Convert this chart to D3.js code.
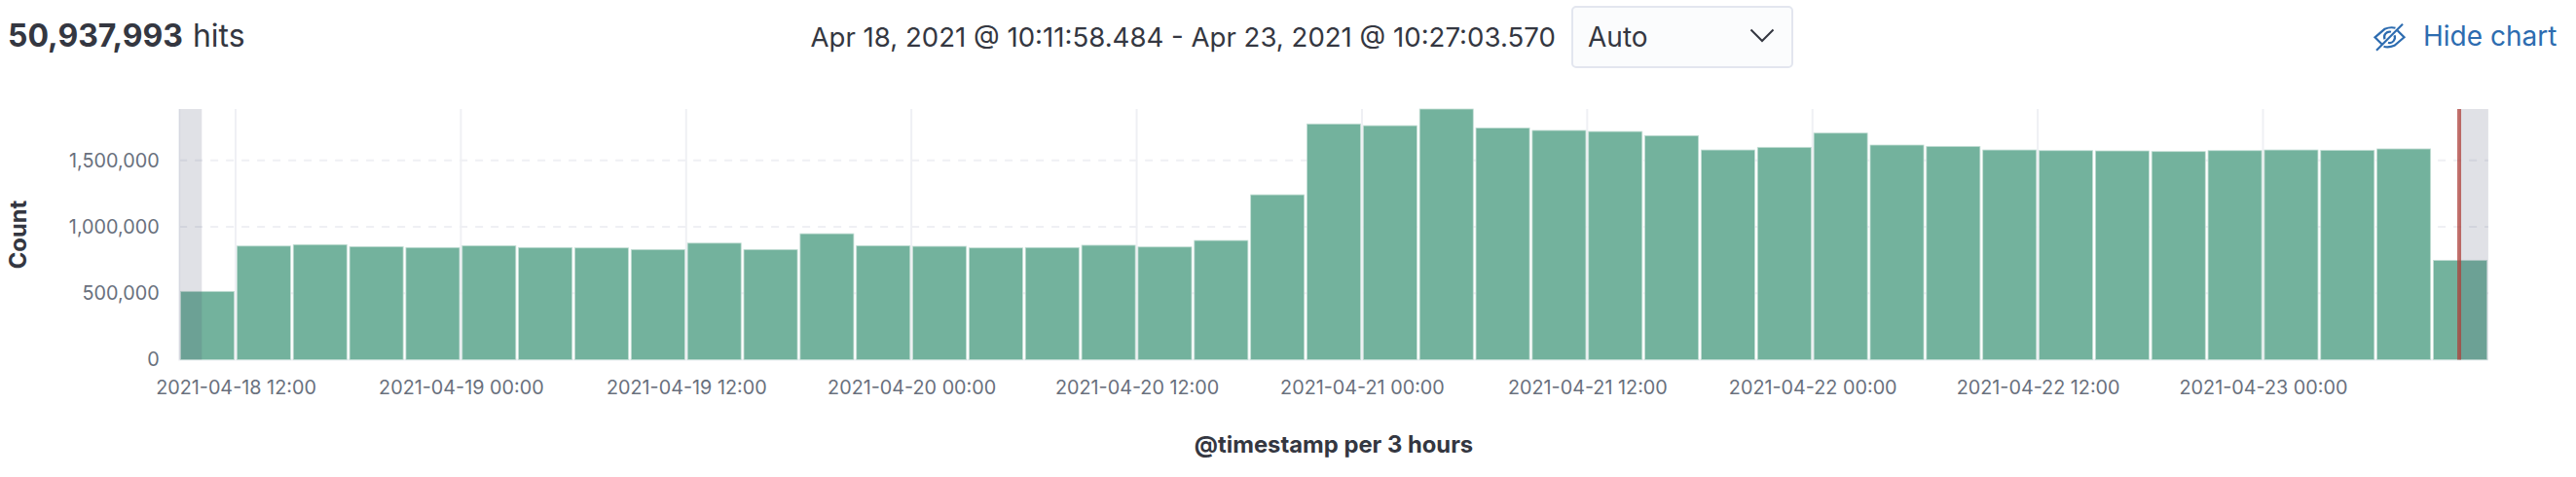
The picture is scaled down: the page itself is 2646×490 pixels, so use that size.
<!DOCTYPE html>
<html>
<head>
<meta charset="utf-8">
<script src="https://cdn.jsdelivr.net/npm/d3@7"></script>
<style>
  html, body { margin: 0; padding: 0; background: #fff; }
  svg { display: block; font-family: Inter, "Noto Sans", sans-serif; }
  .axis text { fill: #69707d; font-size: 19.8px; font-family: Inter, "Noto Sans", sans-serif; }
  .axis .domain, .axis line { display: none; }
</style>
</head>
<body>
<svg id="chart" width="2646" height="490"></svg>
<script>
// values, one bar per 3 hour bucket
const counts = [
  514000, 855000, 866000, 851000, 844000, 858000, 844000, 841000, 829000, 877000,
  829000, 948000, 858000, 853000, 841000, 844000, 861000, 848000, 897000, 1241000,
  1774000, 1761000, 1886000, 1744000, 1725000, 1717000, 1686000, 1578000, 1598000, 1705000,
  1615000, 1605000, 1578000, 1573000, 1571000, 1566000, 1573000, 1578000, 1576000, 1586000,
  748000
];
const firstBucket = "2021-04-18T09:00:00Z";
const lastBucketEnd = "2021-04-23T12:00:00Z";
const rangeStart = "2021-04-18T10:11:58.484Z";
const rangeEnd = "2021-04-23T10:27:03.570Z";
const timeTicks = [
  "2021-04-18T12:00:00Z", "2021-04-19T00:00:00Z", "2021-04-19T12:00:00Z",
  "2021-04-20T00:00:00Z", "2021-04-20T12:00:00Z", "2021-04-21T00:00:00Z",
  "2021-04-21T12:00:00Z", "2021-04-22T00:00:00Z", "2021-04-22T12:00:00Z",
  "2021-04-23T00:00:00Z"
];
const countTicks = [0, 500000, 1000000, 1500000];

const plot = {left: 184.15, right: 2555.9, top: 112, bottom: 369.5};
const svg = d3.select("#chart");

const x = d3.scaleUtc()
  .domain([new Date(firstBucket), new Date(lastBucketEnd)])
  .range([plot.left, plot.right]);
const y = d3.scaleLinear()
  .domain([0, d3.max(counts)])
  .range([plot.bottom, plot.top]);

const bars = counts.map((c, i) => {
  const t0 = d3.utcHour.offset(new Date(firstBucket), i * 3);
  return {t0, t1: d3.utcHour.offset(t0, 3), count: c};
});

// grid
const tickDates = timeTicks.map(d => new Date(d));
svg.append("g").selectAll("line")
  .data(tickDates)
  .join("line")
    .attr("x1", d => x(d)).attr("x2", d => x(d))
    .attr("y1", plot.top).attr("y2", plot.bottom)
    .attr("stroke", "#eff0f4").attr("stroke-width", 2);
svg.append("g").selectAll("line")
  .data(countTicks.slice(1))
  .join("line")
    .attr("x1", plot.left).attr("x2", plot.right)
    .attr("y1", d => y(d)).attr("y2", d => y(d))
    .attr("stroke", "#eff0f4").attr("stroke-width", 2)
    .attr("stroke-dasharray", "8,8");
svg.append("path")
  .attr("d", `M${plot.left},${plot.top}V${plot.bottom}H${plot.right}`)
  .attr("fill", "none").attr("stroke", "#eef0f4").attr("stroke-width", 2);

// bars
svg.append("g").selectAll("rect")
  .data(bars)
  .join("rect")
    .attr("x", d => x(d.t0) + 1.4)
    .attr("width", d => x(d.t1) - x(d.t0) - 2.8)
    .attr("y", d => y(d.count))
    .attr("height", d => y(0) - y(d.count))
    .attr("fill", "#6eaf9a")
    .attr("fill-opacity", 0.97)
    .attr("stroke", "#c4ded5")
    .attr("stroke-width", 0.8);

// out of range overlays
svg.append("rect")
  .attr("x", x(new Date(firstBucket))).attr("y", plot.top)
  .attr("width", x(new Date(rangeStart)) - x(new Date(firstBucket)))
  .attr("height", plot.bottom - plot.top)
  .attr("fill", "#4c526f").attr("fill-opacity", 0.174);
svg.append("rect")
  .attr("x", x(new Date(rangeEnd))).attr("y", plot.top)
  .attr("width", x(new Date(lastBucketEnd)) - x(new Date(rangeEnd)))
  .attr("height", plot.bottom - plot.top)
  .attr("fill", "#4c526f").attr("fill-opacity", 0.174);
svg.append("line")
  .attr("x1", x(new Date(rangeEnd))).attr("x2", x(new Date(rangeEnd)))
  .attr("y1", plot.top).attr("y2", plot.bottom)
  .attr("stroke", "#ae3f39").attr("stroke-opacity", 0.75).attr("stroke-width", 4);

// axes
const fmt = d3.utcFormat("%Y-%m-%d %H:%M");
svg.append("g")
  .attr("class", "axis")
  .attr("transform", `translate(0,${plot.bottom})`)
  .call(d3.axisBottom(x).tickValues(tickDates).tickFormat(fmt).tickSize(0).tickPadding(21));
svg.append("g")
  .attr("class", "axis")
  .attr("transform", `translate(${plot.left},0)`)
  .call(d3.axisLeft(y).tickValues(countTicks).tickFormat(d3.format(",")).tickSize(0).tickPadding(20.5));

svg.append("text")
  .attr("x", (plot.left + plot.right) / 2).attr("y", 465)
  .attr("text-anchor", "middle")
  .attr("font-size", 23.8).attr("font-weight", 700).attr("fill", "#343741")
  .text("@timestamp per 3 hours");
svg.append("text")
  .attr("transform", "translate(27,241) rotate(-90)")
  .attr("text-anchor", "middle")
  .attr("font-size", 23.8).attr("font-weight", 700).attr("fill", "#343741")
  .text("Count");

// header row
const hits = svg.append("text")
  .attr("x", 8).attr("y", 47.7)
  .attr("font-size", 32).attr("fill", "#343741");
hits.append("tspan").attr("font-weight", 700).text("50,937,993");
hits.append("tspan").attr("dx", 10).text("hits");

svg.append("text")
  .attr("x", 832.5).attr("y", 47.7)
  .attr("font-size", 27.6).attr("fill", "#343741")
  .text("Apr 18, 2021 @ 10:11:58.484 - Apr 23, 2021 @ 10:27:03.570");

svg.append("rect")
  .attr("x", 1615).attr("y", 7).attr("width", 226).attr("height", 62).attr("rx", 4)
  .attr("fill", "#fbfcfd").attr("stroke", "#e3e6ef").attr("stroke-width", 2);
svg.append("text")
  .attr("x", 1631).attr("y", 47.7)
  .attr("font-size", 28).attr("fill", "#343741")
  .text("Auto");
svg.append("path")
  .attr("d", "M1798.5,30.5L1810,42L1821.5,30.5")
  .attr("fill", "none").attr("stroke", "#343741").attr("stroke-width", 2);

// eye-closed icon
const icon = svg.append("g")
  .attr("transform", "translate(2454.5,38.3)")
  .attr("fill", "none").attr("stroke", "#2d6cb0").attr("stroke-width", 2.2);
icon.append("path").attr("d", "M-13.5,13.5L13.5,-13.5");
icon.append("path").attr("d", "M-8,7L-15,0L-5,-8.5Q1,-11 6,-9.5");
icon.append("path").attr("d", "M8,-7L15,0L5,8.5Q-1,11 -6,9.5");
icon.append("path").attr("d", "M-5,2A5.5,5.5 0 0 1 1.5,-5.5M5,-2A5.5,5.5 0 0 1 -1.5,5.5");
svg.append("text")
  .attr("x", 2489).attr("y", 47.3)
  .attr("font-size", 28).attr("fill", "#2d6cb0")
  .text("Hide chart");
</script>
</body>
</html>
